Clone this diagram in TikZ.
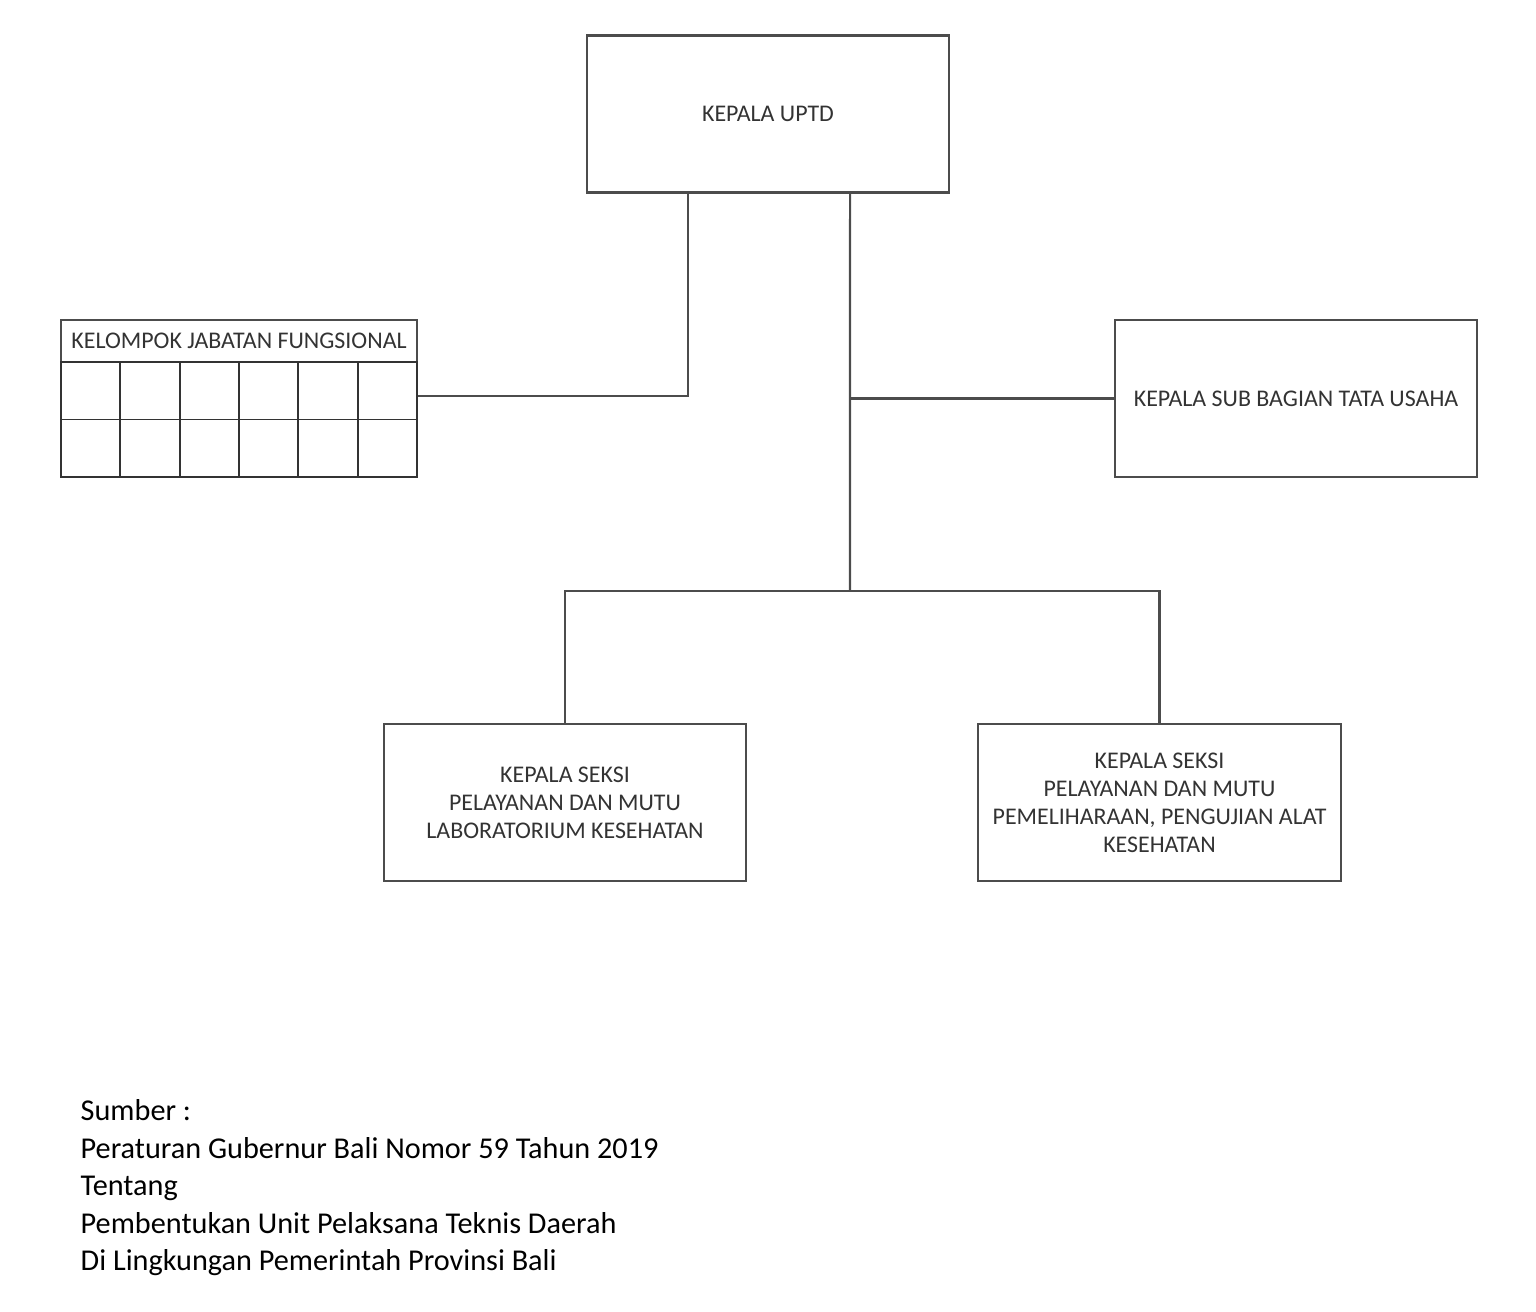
\documentclass[tikz,border=0pt]{standalone}
\usepackage{fontspec}
\setmainfont{Carlito}
\usepackage{tikz}
\usetikzlibrary{positioning, calc}

\begin{document}
\begin{tikzpicture}[
    x=0.01cm, y=-0.01cm,
    orgbox/.style={
        rectangle,
        draw=black!70,
        line width=0.6pt,
        minimum width=3.62cm,
        minimum height=1.57cm,
        inner sep=0pt,
        align=center,
        text=black!80,
        font=\fontsize{6.8}{7.97}\selectfont
    },
    gridcell/.style={
        rectangle,
        draw=black!80,
        line width=0.5pt,
        minimum width=0.5933cm,
        minimum height=0.575cm,
        inner sep=0pt
    },
    link/.style={
        draw=black!70,
        line width=0.6pt
    },
    srctext/.style={
        align=left,
        inner sep=0pt,
        font=\fontsize{8.6}{10.67}\selectfont
    }
]
\useasboundingbox (0,0) rectangle (1536,1312);

% boxes
\node[orgbox] (uptd) at (768,114) {KEPALA UPTD};
\node[orgbox, minimum width=3.56cm, minimum height=0.42cm] (kjf) at (239,341)
    {KELOMPOK JABATAN FUNGSIONAL};
\foreach \r in {1,2}{
  \foreach \c in {1,...,6}{
    \node[gridcell] (c-\r-\c) at ({61+59.33*(\c-0.5)},{362+57.5*(\r-0.5)}) {};
  }
}
\node[orgbox] (tu) at (1296,398.5) {KEPALA SUB BAGIAN TATA USAHA};
\node[orgbox] (lab) at (565,802.5)
    {KEPALA SEKSI\\PELAYANAN DAN MUTU\\LABORATORIUM KESEHATAN};
\node[orgbox] (alat) at (1159.5,802.5)
    {KEPALA SEKSI\\PELAYANAN DAN MUTU\\PEMELIHARAAN, PENGUJIAN ALAT\\KESEHATAN};

% connectors
\coordinate (hub) at (850,591);
\draw[link] ([xshift=-0.8cm]uptd.south) |- ([yshift=-0.05cm]c-1-6.east);
\draw[link] ([xshift=0.82cm]uptd.south) -- (hub);
\draw[link] (tu.west) -- (tu.west -| hub);
\draw[link] (lab.north) |- (hub) -| (alat.north);

% source note
\node[srctext, anchor=north west] (src) at (80,1099)
    {Sumber :\\Peraturan Gubernur Bali Nomor 59 Tahun 2019\\Tentang\\Pembentukan Unit Pelaksana Teknis Daerah\\Di Lingkungan Pemerintah Provinsi Bali};

\end{tikzpicture}
\end{document}
